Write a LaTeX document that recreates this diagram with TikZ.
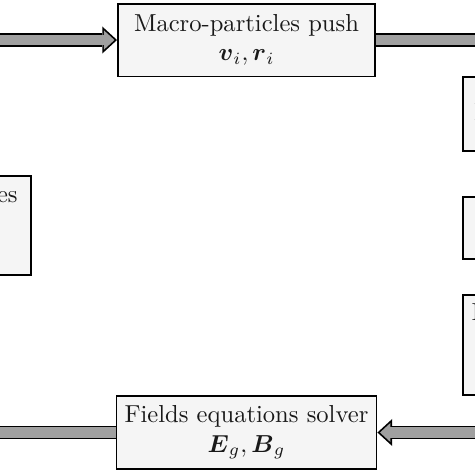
\documentclass[tikz,border=0pt]{standalone}
\usepackage{amsmath,amssymb}
\usepackage{xcolor}
\usepackage{tikz}
\usetikzlibrary{arrows.meta,calc,positioning}
\definecolor{boxgray}{RGB}{245,245,245}
\definecolor{shaftgray}{RGB}{160,160,160}
\tikzset{
  stage/.style={draw, line width=0.7pt, fill=boxgray, align=center, text=black!90},
  pushBox/.style={stage, minimum width=104.7pt, minimum height=29.6pt},  % top / bottom
  sideBox/.style={stage, minimum width=100pt},                         % right column
  loopArrow/.style={line width=4.2pt, draw=shaftgray, shorten >=1.04pt,
    -{Triangle[length=4.26pt, width=7.8pt, line width=0pt]},
    preaction={draw=black, line width=5.6pt, shorten >=0pt,
      -{Triangle[length=6pt, width=11pt, line width=0pt]}}}
}

\begin{document}
\begin{tikzpicture}[x=0.407pt, y=-0.407pt]
  \useasboundingbox (0,0) rectangle (474,474);
  % main loop stages
  \node[pushBox] (push) at (246.5,40) {Macro-particles push\\ $\boldsymbol{v}_i, \boldsymbol{r}_i$};
  \node[pushBox] (solver) at (246.5,432.5) {Fields equations solver\\ $\boldsymbol{E}_g, \boldsymbol{B}_g$};
  \node[stage, anchor=east, minimum height=40.4pt, inner xsep=5.5pt] (interp) at (32,225.5)
    {Fields on particles\\ interpolation\\ $\boldsymbol{E}_i, \boldsymbol{B}_i$};
  % right column
  \node[sideBox, anchor=west, minimum height=30.2pt] (bound) at (462,114) {Boundary conditions};
  \node[sideBox, anchor=west, minimum height=25.3pt] (coll) at (462,228) {Collisions};
  \node[stage, anchor=west, minimum height=40pt, inner xsep=3.6pt] (depo) at (462,345)
    {Deposition of charges\\ and currents\\ $\rho_g, \boldsymbol{J}_g$};
  % connectors
  \draw[loopArrow] (interp.north) |- (push.west);
  \draw[loopArrow] (push.east) -| (bound.north);
  \draw[loopArrow] (depo.south) |- (solver.east);
  \draw[loopArrow] (solver.west) -| (interp.south);
\end{tikzpicture}
\end{document}
